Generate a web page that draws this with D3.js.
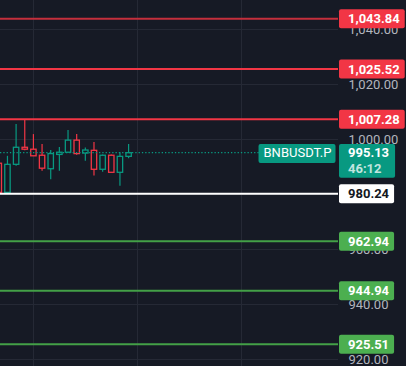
<!DOCTYPE html>
<html><head><meta charset="utf-8">
<script src="https://cdn.jsdelivr.net/npm/d3@7"></script>
<style>html,body{margin:0;padding:0;background:#161a25;overflow:hidden}svg{display:block}</style>
</head><body>
<svg id="chart" width="406" height="366"></svg>
<script>
// ---- data ----
const candleIndex = [0,1,2,3,4,5,6,7,8,9,10,11,12,13,14,15];
const openVals  = [991.3, 980.7, 990.9, 997.1, 996.4, 994.2, 989.3, 994.5, 995.3, 999.7, 995.0, 996.0, 989.1, 994.2, 988.0, 993.8];
const highVals  = [991.3, 994.0, 1005.6, 1007.3, 1001.9, 998.3, 996.1, 997.2, 1003.4, 1001.9, 997.0, 999.0, 994.5, 994.5, 995.3, 998.3];
const lowVals   = [980.7, 980.5, 990.4, 996.0, 994.0, 988.6, 985.5, 988.6, 995.3, 994.4, 992.2, 986.8, 988.2, 988.0, 983.1, 993.1];
const closeVals = [980.7, 990.9, 997.1, 996.4, 994.0, 989.5, 994.8, 995.3, 999.7, 994.8, 996.1, 989.1, 994.2, 988.0, 993.8, 995.13];
const levelValues = [1043.84, 1025.52, 1007.28, 980.24, 962.94, 944.94, 925.51];
const levelKinds  = ["resist2", "resist", "resist", "base", "support", "support", "support"];
const tickValues = [1040, 1020, 1000, 980, 960, 940, 920];
const timeGridIdx = [4, 16, 28];
const symbol = "BNBUSDT.P";
const lastPrice = 995.13;
const countdown = "46:12";

// ---- setup ----
const W = 406, H = 366, plotRight = 338;
const svg = d3.select("#chart");
const font = "Roboto, 'Liberation Sans', Arial, sans-serif";
const bg = "#161a25", up = "#089981", down = "#f23645";

const y = d3.scaleLinear().domain([1040, 920]).range([29.3, 359.3]);
const x = d3.scaleLinear().domain([0, 15]).range([-1.2, 128.6]);

svg.append("rect").attr("width", W).attr("height", H).attr("fill", bg);

// grid
svg.append("g").selectAll("line").data(tickValues).join("line")
  .attr("x1", 0).attr("x2", plotRight)
  .attr("y1", d => Math.round(y(d)) + 0.5).attr("y2", d => Math.round(y(d)) + 0.5)
  .attr("stroke", "#252935").attr("stroke-width", 1);
svg.append("g").selectAll("line").data(timeGridIdx).join("line")
  .attr("x1", d => Math.round(x(d)) + 0.5).attr("x2", d => Math.round(x(d)) + 0.5)
  .attr("y1", 0).attr("y2", H)
  .attr("stroke", "#252935").attr("stroke-width", 1);

// candles
const candles = candleIndex.map(i => ({i, o: openVals[i], h: highVals[i], l: lowVals[i], c: closeVals[i]}));
const cg = svg.append("g");
const cs = cg.selectAll("g").data(candles).join("g");
cs.append("line")
  .attr("x1", d => x(d.i)).attr("x2", d => x(d.i))
  .attr("y1", d => y(d.h)).attr("y2", d => y(d.l))
  .attr("stroke", d => d.c >= d.o ? up : down).attr("stroke-width", 1.2);
cs.append("rect")
  .attr("x", d => x(d.i) - 2.7).attr("width", 5.4)
  .attr("y", d => y(Math.max(d.o, d.c)))
  .attr("height", d => Math.max(1.5, Math.abs(y(d.o) - y(d.c))))
  .attr("fill", bg)
  .attr("stroke", d => d.c >= d.o ? up : down).attr("stroke-width", 1.3);

// dotted current price line
svg.append("line")
  .attr("x1", 0).attr("x2", 263)
  .attr("y1", y(lastPrice)).attr("y2", y(lastPrice))
  .attr("stroke", up).attr("stroke-width", 1.3).attr("stroke-dasharray", "1.3,2");

// level lines
const lineColor = k => k === "resist2" ? "#c42f3c" : k === "resist" ? "#f23645" : k === "base" ? "#ffffff" : "#43a047";
const boxColor = k => (k === "resist2" || k === "resist") ? "#f23645" : k === "base" ? "#ffffff" : "#4caf50";
const textColor = k => k === "base" ? "#131722" : "#ffffff";
const levels = levelValues.map((v, i) => ({v, k: levelKinds[i]}));
svg.append("g").selectAll("line").data(levels).join("line")
  .attr("x1", 0).attr("x2", plotRight)
  .attr("y1", d => y(d.v)).attr("y2", d => y(d.v))
  .attr("stroke", d => lineColor(d.k)).attr("stroke-width", 2);

// axis tick labels
const fmt = d3.format(",.2f");
const axis = d3.axisRight(y).tickValues(tickValues).tickFormat(fmt).tickSize(0).tickPadding(0);
const ag = svg.append("g").attr("transform", `translate(348.5,0)`).call(axis);
ag.select(".domain").remove();
ag.selectAll("text").attr("fill", "#b2b5be").attr("font-family", font).attr("font-size", 13).attr("x", 0);

// level label boxes
const lg = svg.append("g").selectAll("g").data(levels).join("g")
  .attr("transform", d => `translate(339,${y(d.v)})`);
const lbox = lg.append("rect").attr("y", -9.5).attr("height", 19).attr("rx", 2)
  .attr("fill", d => boxColor(d.k));
const ltxt = lg.append("text").attr("x", 9).attr("dy", "0.36em")
  .attr("font-family", font).attr("font-size", 13).attr("font-weight", "bold")
  .attr("fill", d => textColor(d.k)).text(d => fmt(d.v));
ltxt.each(function(d) { d.tw = this.getComputedTextLength(); });
lbox.attr("width", d => d.tw + 14);

// last price label
const py = y(lastPrice);
const pg = svg.append("g");
const ptxt = pg.append("text").attr("x", 348).attr("y", py).attr("dy", "0.36em")
  .attr("font-family", font).attr("font-size", 13).attr("font-weight", "bold")
  .attr("fill", "#ffffff").text(d3.format(".2f")(lastPrice));
const pw = ptxt.node().getComputedTextLength();
pg.insert("rect", "text").attr("x", 339).attr("y", py - 8.7).attr("width", pw + 15).attr("height", 33.7)
  .attr("rx", 2).attr("fill", up);
pg.append("text").attr("x", 348).attr("y", py + 15.2).attr("dy", "0.36em")
  .attr("font-family", font).attr("font-size", 13).attr("font-weight", "bold")
  .attr("fill", "rgba(255,255,255,0.75)").text(countdown);

// symbol label
const sg = svg.append("g");
const stxt = sg.append("text").attr("y", py).attr("dy", "0.36em")
  .attr("font-family", font).attr("font-size", 13).attr("font-weight", "normal")
  .attr("fill", "#ffffff").text(symbol);
const sw = stxt.node().getComputedTextLength();
stxt.attr("x", 335.5 - 4 - sw);
sg.insert("rect", "text").attr("x", 335.5 - sw - 9).attr("y", py - 8.7).attr("width", sw + 9).attr("height", 19)
  .attr("rx", 2).attr("fill", up);
</script>
</body></html>
